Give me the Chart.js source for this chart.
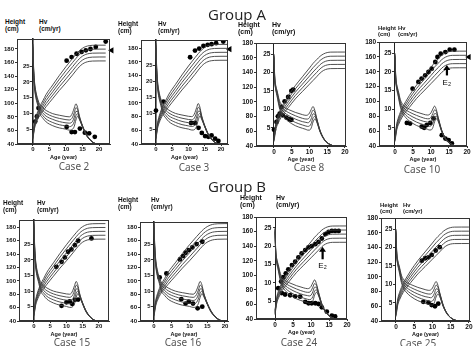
<!DOCTYPE html>
<html lang="en">
<head>
<meta charset="UTF-8">
<title>Growth charts - Group A and Group B</title>
<script src="https://cdn.jsdelivr.net/npm/chart.js"></script>
<style>
    body { margin: 0; background: #fff; user-select: none; -webkit-user-select: none; }
    ::selection { background: transparent; color: inherit; }
    #page { position: relative; width: 474px; height: 346px; overflow: hidden; font-family: "Liberation Sans", Arial, sans-serif; }
    canvas { position: absolute; }
    .group { position: absolute; font-family: "Open Sans", sans-serif; font-size: 15px; color: #222; transform: translate(-50%, -50%); white-space: nowrap; }
    .case { position: absolute; font-family: "Noto Sans", sans-serif; font-size: 10px; color: #555; transform: translate(-50%, -50%); white-space: nowrap; }
    .hdr { position: absolute; font-weight: bold; color: #111; white-space: nowrap; }
</style>
</head>
<body>
<div id="page"></div>
<script>
// tick labels
const ageTicks = [0, 5, 10, 15, 20];
const heightTicks = [40, 60, 80, 100, 120, 140, 160, 180];
const hvTicks = [5, 10, 15, 20, 25];

// boys reference height curves (cm)
const boyAges = [0, 0.5, 1, 2, 3, 4, 6, 8, 10, 12, 13, 14, 15, 16, 17, 18, 20, 22];
const boyHeightM2 = [47, 63, 71, 81.6, 88.4, 95, 107, 119, 130, 141.8, 148, 153.7, 157.9, 160.4, 161.7, 162.2, 162.4, 162.4];
const boyHeightM1 = [48.5, 65, 73.5, 84.8, 92.2, 99.5, 112, 124.5, 136, 147.9, 154, 159.6, 163.7, 166.2, 167.5, 168, 168.2, 168.2];
const boyHeightMean = [50, 67, 76, 88, 96, 104, 117, 130, 142, 154, 160, 165.5, 169.5, 172, 173.3, 173.8, 174, 174];
const boyHeightP1 = [51.5, 69, 78.5, 91.2, 99.8, 108.5, 122, 135.5, 148, 160.1, 166, 171.4, 175.3, 177.8, 179.1, 179.6, 179.8, 179.8];
const boyHeightP2 = [53, 71, 81, 94.4, 103.6, 113, 127, 141, 154, 166.2, 172, 177.3, 181.1, 183.6, 184.9, 185.4, 185.6, 185.6];

// boys reference height velocity curves (cm/yr)
const boyHvAges = [0, 0.2, 0.5, 0.9, 1.5, 2, 3, 4, 6, 8, 10, 11, 11.5, 12, 12.5, 13, 13.5, 14, 15, 16, 17, 18, 19, 20];
const boyHv1 = [32, 25, 20, 17, 14.5, 13, 11.8, 11, 10, 9.5, 9.1, 9, 9.3, 10.3, 11.8, 13.1, 12, 9.5, 6.2, 3.8, 2.2, 1.1, 0.5, 0.2];
const boyHv2 = [31.5, 24.5, 19.5, 16.5, 14, 12.3, 11, 10.1, 9.1, 8.5, 8.1, 8, 8.2, 8.9, 10.3, 11.9, 11.3, 9.2, 6.1, 3.7, 2.1, 1.1, 0.5, 0.2];
const boyHv3 = [31, 24, 19, 16, 13.5, 11.6, 10.2, 9.2, 8.2, 7.5, 7.1, 7, 7.1, 7.6, 8.9, 10.7, 10.7, 8.9, 6, 3.6, 2.1, 1.1, 0.5, 0.2];
const boyHv4 = [30.5, 23.5, 18.5, 15.5, 13, 10.9, 9.4, 8.3, 7.2, 6.5, 6.1, 5.9, 6, 6.4, 7.5, 9.4, 10, 8.6, 5.9, 3.5, 2, 1, 0.5, 0.2];
const boyHv5 = [30, 23, 18, 15, 12.5, 10.2, 8.6, 7.4, 6.2, 5.5, 5.1, 4.8, 4.8, 5.1, 6, 8, 9.2, 8.3, 5.8, 3.4, 2, 1, 0.5, 0.2];

// girls reference height curves (cm)
const girlAges = [0, 0.5, 1, 2, 3, 4, 6, 8, 10, 11, 12, 13, 14, 15, 16, 18, 20];
const girlHeightM2 = [46, 62, 69, 79, 86, 92, 104, 114, 124, 129, 134, 139.2, 142.8, 144.6, 145.2, 145.3, 145.3];
const girlHeightM1 = [47.5, 64, 71.5, 82, 89.5, 96, 108.5, 119, 129.5, 134.8, 139.8, 144.9, 148.4, 150.2, 150.8, 150.9, 150.9];
const girlHeightMean = [49, 66, 74, 85, 93, 100, 113, 124, 135, 140.6, 145.6, 150.6, 154, 155.8, 156.4, 156.5, 156.5];
const girlHeightP1 = [50.5, 68, 76.5, 88, 96.5, 104, 117.5, 129, 140.5, 146.4, 151.4, 156.3, 159.6, 161.4, 162, 162.1, 162.1];
const girlHeightP2 = [52, 70, 79, 91, 100, 108, 122, 134, 146, 152.2, 157.2, 162, 165.2, 167, 167.6, 167.7, 167.7];

// girls reference height velocity curves (cm/yr)
const girlHvAges = [0, 0.2, 0.5, 0.9, 1.5, 2, 3, 4, 6, 8, 9, 9.5, 10, 10.5, 11, 11.5, 12, 13, 14, 15, 16, 17];
const girlHv1 = [25, 19, 16.5, 15, 12.5, 11.5, 10.5, 10, 9.2, 8.6, 8.4, 8.5, 9, 10, 10.8, 9.8, 7.8, 4.3, 2.2, 1, 0.4, 0.1];
const girlHv2 = [24.7, 18.7, 16.2, 14.6, 12, 10.9, 9.8, 9.2, 8.3, 7.6, 7.4, 7.4, 7.8, 8.8, 9.8, 9.3, 7.6, 4.2, 2.2, 1, 0.4, 0.1];
const girlHv3 = [24.4, 18.4, 15.9, 14.2, 11.5, 10.3, 9.1, 8.4, 7.4, 6.7, 6.5, 6.4, 6.6, 7.5, 8.8, 8.7, 7.3, 4.1, 2.1, 1, 0.4, 0.1];
const girlHv4 = [24.1, 18.1, 15.6, 13.8, 11, 9.7, 8.4, 7.6, 6.5, 5.8, 5.5, 5.4, 5.5, 6.2, 7.7, 8.1, 7, 4, 2.1, 1, 0.4, 0.1];
const girlHv5 = [23.8, 17.8, 15.3, 13.4, 10.5, 9.1, 7.7, 6.8, 5.6, 4.9, 4.6, 4.4, 4.4, 5, 6.6, 7.4, 6.7, 3.9, 2, 1, 0.4, 0.1];

// patient measurements: [age, height cm] and [age, velocity cm/yr]
const case2Height = [[0.7, 73], [1.2, 80.5], [1.7, 93], [10.2, 162.8], [11.7, 168], [13.2, 173], [14.7, 175.6], [16, 178], [17.4, 180], [19, 183], [22, 191]];
const case2Hv = [[10.2, 5.8], [11.7, 4.2], [12.7, 4.2], [14.2, 5.3], [15.7, 4], [17, 3.8], [18.7, 2.7]];
const case3Height = [[0, 88.8], [2.3, 102], [10.5, 166.8], [12, 176.6], [13.3, 179.5], [14.6, 183.4], [15.9, 184.9], [17.1, 185.9], [18.5, 187.3], [20.7, 189.8]];
const case3Hv = [[10.8, 7], [12, 7], [13.1, 5.5], [14.1, 3.9], [15.1, 2.9], [16.1, 2.7], [17.1, 3.1], [18.2, 2.1], [19.2, 1.4]];
const case8Height = [[0, 62.2], [0.7, 72.6], [1.1, 80.3], [1.6, 84], [2.1, 93], [3, 100.7], [4, 106.6], [4.9, 114.8], [5.4, 116.6]];
const case8Hv = [[2.5, 8.4], [3.5, 7.8], [4.4, 7.3], [4.9, 7.2]];
const case10Height = [[4.9, 117.2], [6.5, 126.2], [7.4, 130.7], [8.4, 135.1], [9.3, 139.6], [10.2, 144.1], [11.2, 153.1], [11.8, 159.8], [12.7, 164.3], [14, 166.5], [15.2, 169.7], [16.5, 169.7]];
const case10Hv = [[3.3, 6.3], [4.2, 6.1], [7.4, 5.3], [8.1, 5], [8.8, 5.7], [9.8, 6.3], [10.7, 7.5], [13, 3], [14, 2.1], [14.9, 1.7], [15.8, 0.8]];
const case15Height = [[6.9, 121], [8.5, 128.5], [9.5, 135], [10.5, 143.5], [11.5, 147], [12.6, 153.5], [13.6, 160], [17.7, 163.5]];
const case15Hv = [[8.5, 5.3], [10, 6.4], [11, 6.7], [11.8, 5.9], [12.6, 7.2], [13.6, 7.3]];
const case16Height = [[1.6, 105], [3.5, 111], [7.3, 132], [8.2, 137], [8.9, 142], [9.8, 146], [10.8, 150], [12, 155], [13.6, 158.5]];
const case16Hv = [[7.7, 7.4], [8.9, 6], [9.8, 6.6], [11, 6], [12.3, 4.5], [13.6, 5]];
const case24Height = [[0.9, 82.3], [1.7, 91.4], [2.3, 97.3], [3, 102.7], [3.7, 108.2], [4.7, 114], [5.6, 118.6], [6.5, 124.5], [7.4, 130], [8.4, 134.5], [9.3, 138.2], [10.2, 140], [11.2, 142.7], [12.1, 145.9], [13, 150.5], [14, 156.4], [14.9, 159.5], [15.8, 160.9], [16.7, 160.9], [17.7, 160.9]];
const case24Hv = [[1.9, 7.2], [2.8, 6.8], [4.2, 6.6], [5.6, 6.3], [7, 6.2], [8.4, 4.8], [9.3, 4.4], [10.2, 4.4], [11.2, 4.4], [12.1, 4.2], [13, 3.3], [14.4, 2.1], [15.8, 1], [16.7, 0.8]];
const case25Height = [[7.1, 122], [8, 125.3], [8.9, 126.6], [9.8, 129.8], [10.9, 135.8], [12, 140.3]];
const case25Hv = [[7.5, 5.3], [8.9, 5.1], [9.8, 4.4], [10.7, 4.1], [11.6, 4.8]];

// target height markers (cm) and E2 arrows [age, from cm, to cm]
const case2Target = 178;
const case3Target = 178.5;
const case10Target = 159.8;
const case10Arrow = [14.4, 135, 149];
const case24Arrow = [13.2, 122, 139];

const boyCurves = {
    height: [boyHeightM2, boyHeightM1, boyHeightMean, boyHeightP1, boyHeightP2],
    hv: [boyHv1, boyHv2, boyHv3, boyHv4, boyHv5],
    ages: boyAges, hvAges: boyHvAges
};
const girlCurves = {
    height: [girlHeightM2, girlHeightM1, girlHeightMean, girlHeightP1, girlHeightP2],
    hv: [girlHv1, girlHv2, girlHv3, girlHv4, girlHv5],
    ages: girlAges, hvAges: girlHvAges
};

// layout of the eight panels (plot box in page pixels)
const panels = [
    { label: "Case 2", sex: "boy", box: [17, 39, 110, 144], x: [-4.8, 23.3], yMax: 194.7, height: case2Height, hv: case2Hv, target: case2Target, caseAt: [74, 166], hdr: [5, 19], hvHdr: [39, 19], hdrFs: 6.5 },
    { label: "Case 3", sex: "boy", box: [141, 40, 228, 144], x: [-4.6, 22.15], yMax: 192, height: case3Height, hv: case3Hv, target: case3Target, caseAt: [194, 167], hdr: [118, 21], hvHdr: [158, 21], hdrFs: 6.5 },
    { label: "Case 8", sex: "girl", box: [256, 43, 346, 146], x: [-5.07, 20.3], yMax: 180, height: case8Height, hv: case8Hv, caseAt: [309, 167], hdr: [238, 21], hvHdr: [272, 21], hdrFs: 7 },
    { label: "Case 10", sex: "girl", box: [379, 42, 467, 146], x: [-4.44, 20], yMax: 180, height: case10Height, hv: case10Hv, target: case10Target, arrow: case10Arrow, caseAt: [422, 169], hdr: [378, 25], hvHdr: [398, 25], hdrFs: 5.8 },
    { label: "Case 15", sex: "boy", box: [19, 220, 109, 321], x: [-4.6, 23.1], yMax: 191, height: case15Height, hv: case15Hv, caseAt: [72, 342], hdr: [3, 200], hvHdr: [37, 200], hdrFs: 6.5 },
    { label: "Case 16", sex: "boy", box: [140, 222, 228, 321], x: [-3.94, 20.85], yMax: 188, height: case16Height, hv: case16Hv, caseAt: [183, 342], hdr: [118, 197], hvHdr: [151, 197], hdrFs: 6.5 },
    { label: "Case 24", sex: "girl", box: [256, 217, 347, 319], x: [-5.28, 20], yMax: 180, height: case24Height, hv: case24Hv, arrow: case24Arrow, caseAt: [299, 342], hdr: [240, 194], hvHdr: [276, 194], hdrFs: 7 },
    { label: "Case 25", sex: "girl", box: [381, 218, 470, 321], x: [-4.1, 20.3], yMax: 180, height: case25Height, hv: case25Hv, caseAt: [418, 343], hdr: [380, 202], hvHdr: [403, 202], hdrFs: 5.8 }
];

const PAD_T = 5, PAD_R = 9, Y_W = 16, X_H = 17;
const page = document.getElementById("page");

function addText(cls, html, x, y, fs) {
    const d = document.createElement("div");
    d.className = cls;
    d.innerHTML = html;
    d.style.left = x + "px";
    d.style.top = y + "px";
    if (fs) {
        d.style.fontSize = fs + "px";
        d.style.lineHeight = (fs + 0.3) + "px";
    }
    page.appendChild(d);
}

function curve(ages, vals, axis) {
    return {
        data: ages.map((a, i) => ({ x: a, y: vals[i] })),
        yAxisID: axis, showLine: true, pointRadius: 0,
        borderColor: "#3c3c3c", borderWidth: 0.9,
        cubicInterpolationMode: "monotone", fill: false
    };
}

function dots(list, axis) {
    return {
        data: list.map(p => ({ x: p[0], y: p[1] })),
        yAxisID: axis, showLine: false, pointRadius: 2.4,
        pointBackgroundColor: "#000", pointBorderWidth: 0
    };
}

// box round the plot and the E2 arrows
const framePlugin = {
    id: "frame",
    afterDatasetsDraw(chart, args, opts) {
        const { ctx, chartArea: a } = chart;
        ctx.save();
        ctx.strokeStyle = "#333";
        ctx.lineWidth = 1;
        ctx.strokeRect(a.left + 0.5, a.top + 0.5, a.width - 1, a.height - 1);
        if (opts.arrow) {
            const [age, from, to] = opts.arrow;
            const px = chart.scales.x.getPixelForValue(age);
            const y0 = chart.scales.y.getPixelForValue(from);
            const y1 = chart.scales.y.getPixelForValue(to);
            ctx.fillStyle = "#000";
            ctx.fillRect(px - 1, y1 + 4, 2.2, y0 - y1 - 4);
            ctx.beginPath();
            ctx.moveTo(px, y1);
            ctx.lineTo(px - 3.5, y1 + 5);
            ctx.lineTo(px + 3.5, y1 + 5);
            ctx.closePath();
            ctx.fill();
            ctx.font = "8px 'Liberation Sans'";
            ctx.textAlign = "center";
            ctx.textBaseline = "top";
            ctx.fillText("E\u2082", px, y0 + 3);
        }
        ctx.restore();
    }
};

panels.forEach(p => {
    const [l, t, r, b] = p.box;
    const cv = document.createElement("canvas");
    cv.width = Y_W + (r - l) + PAD_R;
    cv.height = PAD_T + (b - t) + X_H;
    cv.style.left = (l - Y_W) + "px";
    cv.style.top = (t - PAD_T) + "px";
    page.appendChild(cv);

    const ref = p.sex === "boy" ? boyCurves : girlCurves;
    // Hv scale: value 0 sits at this height (cm), and cm per 1 cm/yr
    const hv0 = p.sex === "boy" ? 38 : 39.5;
    const hvStep = p.sex === "boy" ? 4.67 : 5.02;
    const fs = p.sex === "boy" ? 6 : 6.5;
    const tickFont = { family: "Liberation Sans", size: fs, weight: "bold" };

    const datasets = [];
    ref.height.forEach(v => datasets.push(curve(ref.ages, v, "y")));
    ref.hv.forEach(v => datasets.push(curve(ref.hvAges, v, "hv")));
    datasets.push(dots(p.height, "y"));
    datasets.push(dots(p.hv, "hv"));
    if (p.target) {
        datasets.push({
            data: [{ x: p.x[1] + 0.5, y: p.target }], yAxisID: "y",
            pointStyle: "triangle", rotation: -90, pointRadius: 3.6,
            pointBackgroundColor: "#000", pointBorderWidth: 0, clip: false
        });
    }

    new Chart(cv, {
        type: "scatter",
        data: { datasets },
        options: {
            responsive: false, animation: false, devicePixelRatio: 1,
            layout: { padding: { top: PAD_T, right: PAD_R, left: 0, bottom: 0 } },
            plugins: { legend: { display: false }, tooltip: { enabled: false }, frame: { arrow: p.arrow } },
            scales: {
                x: {
                    type: "linear", min: p.x[0], max: p.x[1],
                    afterBuildTicks: s => { s.ticks = ageTicks.map(v => ({ value: v })); },
                    afterFit: s => { s.height = X_H; },
                    ticks: { font: tickFont, color: "#111", padding: 0, maxRotation: 0, autoSkip: false },
                    grid: { drawOnChartArea: false, tickLength: 2, color: "#333" },
                    border: { color: "#333", width: 1 },
                    title: { display: true, text: "Age (year)", color: "#111", font: { family: "Liberation Sans", size: 5.5, weight: "bold" }, padding: { top: 0, bottom: 0 } }
                },
                y: {
                    position: "left", min: 40, max: p.yMax,
                    afterBuildTicks: s => { s.ticks = heightTicks.map(v => ({ value: v })); },
                    afterFit: s => { s.width = Y_W; },
                    ticks: { font: tickFont, color: "#111", padding: 1 },
                    grid: { drawOnChartArea: false, tickLength: 2, color: "#333" },
                    border: { color: "#333", width: 1 }
                },
                hv: {
                    position: { x: 0 },
                    min: (40 - hv0) / hvStep, max: (p.yMax - hv0) / hvStep,
                    afterBuildTicks: s => { s.ticks = hvTicks.map(v => ({ value: v })); },
                    ticks: { font: tickFont, color: "#111", padding: 1, callback: v => v + "  " },
                    grid: { drawOnChartArea: false, tickLength: 2, color: "#333" },
                    border: { color: "#222", width: p.sex === "boy" ? 1.6 : 1 }
                }
            }
        },
        plugins: [framePlugin]
    });

    addText("hdr", "Height<br>(cm)", p.hdr[0], p.hdr[1], p.hdrFs);
    addText("hdr", "Hv<br>(cm/yr)", p.hvHdr[0], p.hvHdr[1], p.hdrFs);
    addText("case", p.label, p.caseAt[0], p.caseAt[1]);
});

addText("group", "Group A", 237, 14);
addText("group", "Group B", 237, 186);
</script>
</body>
</html>
